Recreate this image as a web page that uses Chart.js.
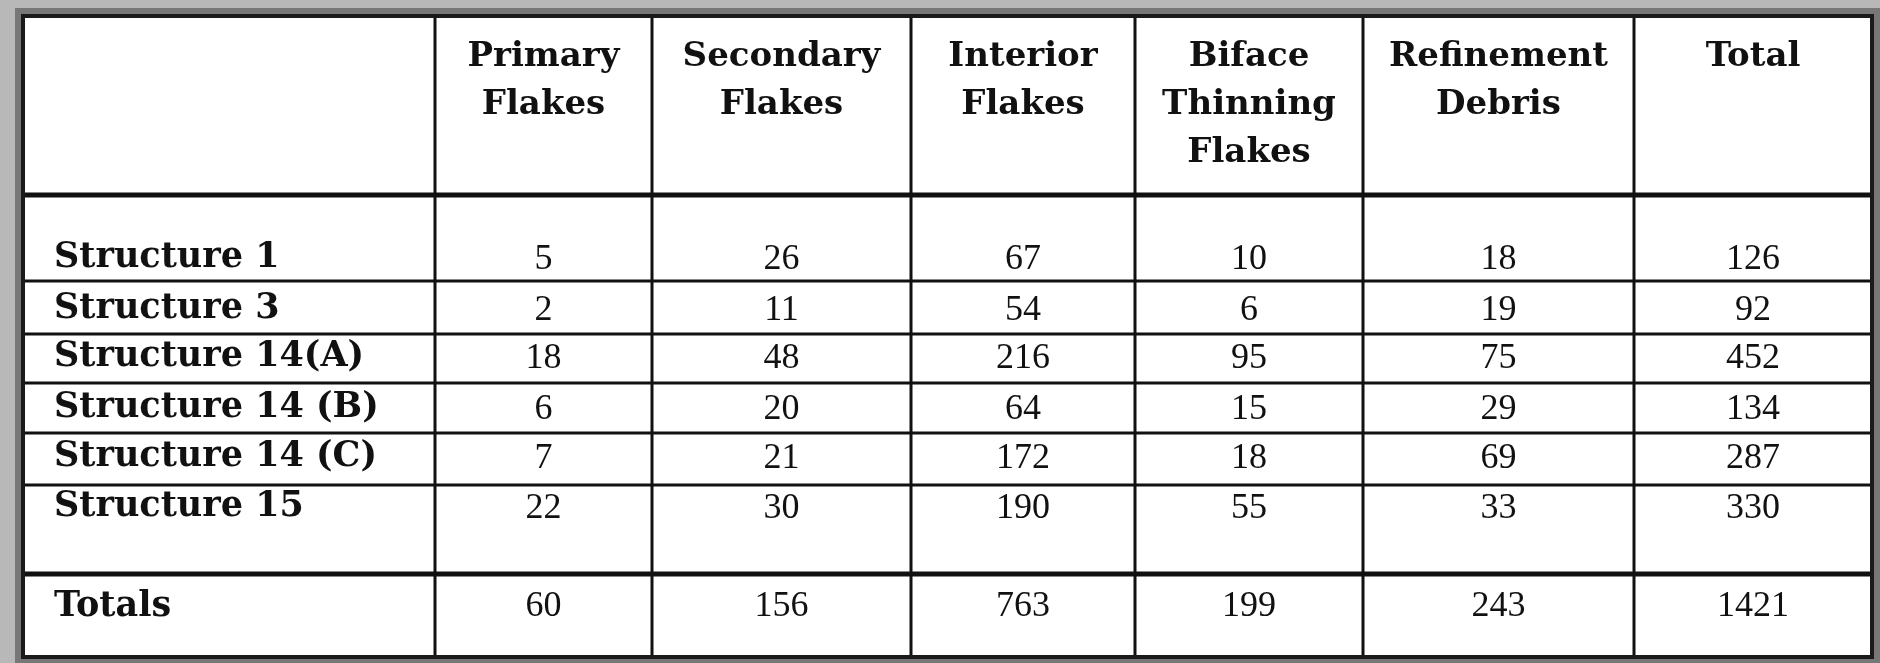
<!DOCTYPE html>
<html><head><meta charset="utf-8">
<script src="https://cdn.jsdelivr.net/npm/chart.js@4"></script>
<style>html,body{margin:0;padding:0;background:#b8b8b8}canvas{display:block}</style>
</head><body>
<canvas id="c" width="1880" height="663"></canvas>
<script>
// ---- data ----
const columns = ["Primary\nFlakes","Secondary\nFlakes","Interior\nFlakes","Biface\nThinning\nFlakes","Refinement\nDebris","Total"];
const rows = ["Structure 1","Structure 3","Structure 14(A)","Structure 14 (B)","Structure 14 (C)","Structure 15"];
const primary   = [5,2,18,6,7,22];
const secondary = [26,11,48,20,21,30];
const interior  = [67,54,216,64,172,190];
const biface    = [10,6,95,15,18,55];
const refinement= [18,19,75,29,69,33];
const total     = [126,92,452,134,287,330];
const totalsLabel = "Totals";
const totals    = [60,156,763,199,243,1421];

// ---- layout (scale units) ----
const COL_EDGES = [23,435,652,911,1135,1363,1634,1872];
const ROW_EDGES = [16,195,281,334,383,433,485,574,657];
const ROW_TEXT_Y = [258,309,357,408,457,507,607];
const HEADER_Y = 57, LINE_H = 48;
const LABEL_X = 54;

const series = [primary,secondary,interior,biface,refinement,total];
const cells = [];
series.forEach((arr,ci)=>{
  const cx=(COL_EDGES[ci+1]+COL_EDGES[ci+2])/2;
  arr.forEach((v,ri)=>cells.push({x:cx,y:ROW_TEXT_Y[ri]+2,t:String(v)}));
  cells.push({x:cx,y:ROW_TEXT_Y[6],t:String(totals[ci])});
});
const labels = rows.map((r,i)=>({x:LABEL_X,y:ROW_TEXT_Y[i],t:r})).concat([{x:LABEL_X,y:ROW_TEXT_Y[6],t:totalsLabel}]);
const heads = columns.map((c,i)=>({x:(COL_EDGES[i+1]+COL_EDGES[i+2])/2,y:HEADER_Y,t:c}));

const tablePlugin={id:'table',
 beforeDatasetsDraw(chart){
  const {ctx,scales:{x,y}}=chart;
  ctx.save();
  const L=x.getPixelForValue(COL_EDGES[0]),R=x.getPixelForValue(COL_EDGES[7]);
  const T=y.getPixelForValue(ROW_EDGES[0]),B=y.getPixelForValue(ROW_EDGES[8]);
  ctx.fillStyle='#fff';ctx.fillRect(L,T,R-L,B-T);
  ctx.strokeStyle='#111';ctx.lineWidth=3;
  COL_EDGES.slice(1,-1).forEach(e=>{const px=x.getPixelForValue(e);ctx.beginPath();ctx.moveTo(px,T);ctx.lineTo(px,B);ctx.stroke();});
  ROW_EDGES.slice(1,-1).forEach((e,i)=>{const py=y.getPixelForValue(e);ctx.lineWidth=(i===0||i===6)?5:3;ctx.beginPath();ctx.moveTo(L,py);ctx.lineTo(R,py);ctx.stroke();});
  ctx.lineWidth=4;ctx.strokeStyle='#1a1a1a';ctx.strokeRect(L,T,R-L,B-T);
  ctx.lineWidth=6;ctx.strokeStyle='#777';ctx.strokeRect(L-5,T-5,R-L+10,B-T+10);
  ctx.restore();
 },
 afterDatasetsDraw(chart){
  const {ctx}=chart;
  ctx.save();ctx.fillStyle='#111';ctx.textBaseline='middle';
  const draw=(ds,font,align)=>{
    chart.getDatasetMeta(ds).data.forEach((el,i)=>{
      const raw=chart.data.datasets[ds].data[i];
      ctx.font=font;ctx.textAlign=align;
      raw.t.split('\n').forEach((ln,k)=>ctx.fillText(ln,el.x,el.y+k*LINE_H));
    });
  };
  draw(0,'36px "Liberation Serif"','center');
  draw(1,'bold 35px "DejaVu Serif"','left');
  draw(2,'bold 34px "DejaVu Serif"','center');
  ctx.restore();
 }};

new Chart(document.getElementById('c'),{
 type:'scatter',
 data:{datasets:[
  {data:cells,pointRadius:0},
  {data:labels,pointRadius:0},
  {data:heads,pointRadius:0}]},
 options:{responsive:false,animation:false,devicePixelRatio:1,
  layout:{padding:0},
  plugins:{legend:{display:false},tooltip:{enabled:false}},
  scales:{x:{type:'linear',min:0,max:1880,display:false},
          y:{type:'linear',min:0,max:663,reverse:true,display:false}}},
 plugins:[tablePlugin]});
</script></body></html>
